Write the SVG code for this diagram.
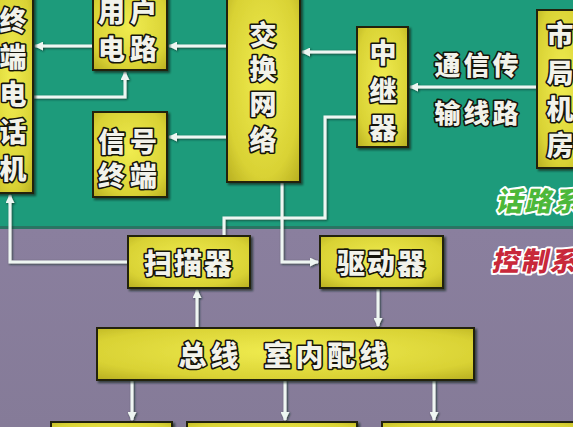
<svg xmlns="http://www.w3.org/2000/svg" width="573" height="427" viewBox="0 0 573 427">
<defs>
<radialGradient id="yg" cx="50%" cy="45%" r="75%">
<stop offset="0" stop-color="#f0ec50"/>
<stop offset="0.7" stop-color="#d9d234"/>
<stop offset="1" stop-color="#b6ad20"/>
</radialGradient>
<linearGradient id="bg" x1="0" y1="0" x2="0" y2="1">
<stop offset="0" stop-color="#8a7f9e"/>
<stop offset="1" stop-color="#857b98"/>
</linearGradient>
<filter id="sh" x="-10%" y="-10%" width="130%" height="130%">
<feDropShadow dx="2" dy="2" stdDeviation="1.2" flood-color="#10201a" flood-opacity="0.7"/>
</filter>
<filter id="lsh" x="-5%" y="-5%" width="110%" height="110%">
<feDropShadow dx="1" dy="1" stdDeviation="0.8" flood-color="#0a2a24" flood-opacity="0.8"/>
</filter>
<marker id="ah" viewBox="0 0 10 10" refX="9" refY="5" markerWidth="3" markerHeight="3" orient="auto" markerUnits="strokeWidth">
<path d="M0,0 L10,5 L0,10 z" fill="#eef6f2"/>
</marker>
<style>
.box{fill:url(#yg);stroke:#23200c;stroke-width:2;filter:url(#sh)}
.t{font-family:"Noto Sans CJK SC","Noto Sans CJK JP",sans-serif;font-weight:900;fill:#f2f2ea;stroke:#15140a;stroke-width:3.2;paint-order:stroke;stroke-linejoin:round;text-anchor:middle;dominant-baseline:central}
.c{fill:none;stroke:#eef6f2;stroke-width:3;stroke-linejoin:miter}
.lab{font-family:"Noto Sans CJK SC",sans-serif;font-weight:900;stroke:#ffffff;stroke-width:4;paint-order:stroke;stroke-linejoin:round;dominant-baseline:central}
</style>
</defs>
<rect x="0" y="0" width="573" height="229" fill="#1d9b7b"/>
<rect x="0" y="229" width="573" height="198" fill="url(#bg)"/>
<rect x="0" y="226" width="573" height="3" fill="#2e6a5e" opacity="0.8"/>

<g id="connectors" filter="url(#lsh)">
<path class="c" d="M227,46 H169" marker-end="url(#ah)"/>
<path class="c" d="M93,46 H35" marker-end="url(#ah)"/>
<path class="c" d="M33,97 H125 V72" marker-end="url(#ah)"/>
<path class="c" d="M227,137 H169" marker-end="url(#ah)"/>
<path class="c" d="M357,52 H302" marker-end="url(#ah)"/>
<path class="c" d="M537,87 H410" marker-end="url(#ah)"/>
<path class="c" d="M357,117 H325 V218 H224 V236"/>
<path class="c" d="M282,182 V262 H318" marker-end="url(#ah)"/>
<path class="c" d="M128,262 H10 V195" marker-end="url(#ah)"/>
<path class="c" d="M197,328 V290" marker-end="url(#ah)"/>
<path class="c" d="M378,288 V326" marker-end="url(#ah)"/>
<path class="c" d="M132,380 V420" marker-end="url(#ah)"/>
<path class="c" d="M285,380 V420" marker-end="url(#ah)"/>
<path class="c" d="M434,380 V420" marker-end="url(#ah)"/>
</g>

<g id="terminal">
<rect class="box" x="-10" y="-10" width="43" height="203"/>
<text class="t" font-size="27" x="13" y="19">终</text>
<text class="t" font-size="27" x="13" y="55">端</text>
<text class="t" font-size="27" x="13" y="92">电</text>
<text class="t" font-size="27" x="13" y="130">话</text>
<text class="t" font-size="27" x="13" y="167">机</text>
</g>
<g id="user-circuit">
<rect class="box" x="93" y="-10" width="74" height="80"/>
<text class="t" font-size="27" x="130" y="10" letter-spacing="5">用户</text>
<text class="t" font-size="27" x="130" y="47" letter-spacing="5">电路</text>
</g>
<g id="signal-terminal">
<rect class="box" x="93" y="112" width="74" height="85"/>
<text class="t" font-size="27" x="130" y="140" letter-spacing="5">信号</text>
<text class="t" font-size="27" x="130" y="174" letter-spacing="5">终端</text>
</g>
<g id="switch-network">
<rect class="box" x="227" y="-10" width="73" height="192"/>
<text class="t" font-size="27" x="263" y="33">交</text>
<text class="t" font-size="27" x="263" y="67">换</text>
<text class="t" font-size="27" x="263" y="102">网</text>
<text class="t" font-size="27" x="263" y="138">络</text>
</g>
<g id="relay">
<rect class="box" x="357" y="27" width="51" height="120"/>
<text class="t" font-size="27" x="383" y="51">中</text>
<text class="t" font-size="27" x="383" y="89">继</text>
<text class="t" font-size="27" x="383" y="126">器</text>
</g>
<g id="city-office">
<rect class="box" x="537" y="10" width="50" height="158"/>
<text class="t" font-size="27" x="560" y="33">市</text>
<text class="t" font-size="27" x="560" y="71">局</text>
<text class="t" font-size="27" x="560" y="107">机</text>
<text class="t" font-size="27" x="560" y="143">房</text>
</g>
<g id="line-label">
<text class="t" font-size="26" x="478" y="63" letter-spacing="3">通信传</text>
<text class="t" font-size="26" x="478" y="111" letter-spacing="3">输线路</text>
</g>
<g id="scanner">
<rect class="box" x="128" y="236" width="122" height="52"/>
<text class="t" font-size="28" x="189" y="262" letter-spacing="2">扫描器</text>
</g>
<g id="driver">
<rect class="box" x="320" y="236" width="123" height="52"/>
<text class="t" font-size="28" x="382" y="262" letter-spacing="2">驱动器</text>
</g>
<g id="bus">
<rect class="box" x="97" y="328" width="377" height="52"/>
<text class="t" font-size="28" x="285" y="354" letter-spacing="4" xml:space="preserve">总线  室内配线</text>
</g>
<g id="bottom-1"><rect class="box" x="51" y="422" width="121" height="30"/></g>
<g id="bottom-2"><rect class="box" x="187" y="422" width="170" height="30"/></g>
<g id="bottom-3"><rect class="box" x="382" y="422" width="200" height="30"/></g>

<g id="voice-system-label">
<text class="lab" font-size="27" fill="#4cb83a" x="498" y="199" letter-spacing="2" transform="translate(0,199) skewX(-12) translate(0,-199)">话路系</text>
</g>
<g id="control-system-label">
<text class="lab" font-size="27" fill="#c8283a" x="494" y="259" letter-spacing="2" transform="translate(0,259) skewX(-12) translate(0,-259)">控制系</text>
</g>
</svg>
